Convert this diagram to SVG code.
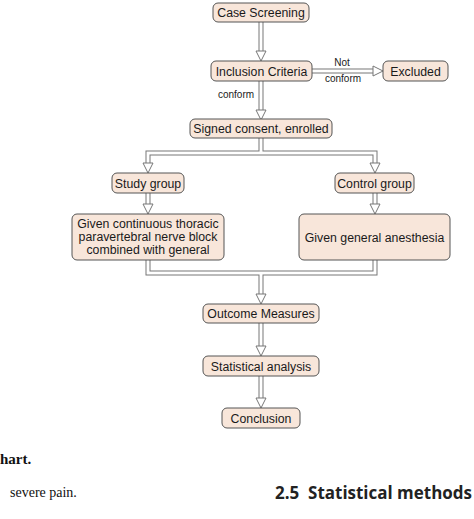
<svg xmlns="http://www.w3.org/2000/svg" width="474" height="519" viewBox="0 0 474 519">
<style>
.box{fill:#f8e6da;stroke:#555;stroke-width:1}
.t{font-family:"Liberation Sans",Arial,sans-serif;font-size:12.3px;fill:#1a1a1a;text-anchor:middle}
.s{font-family:"Liberation Sans",Arial,sans-serif;font-size:10px;fill:#1a1a1a;text-anchor:middle}
.outer{fill:none;stroke:#777;stroke-width:5;stroke-linejoin:miter;stroke-linecap:butt}
.inner{fill:none;stroke:#fff;stroke-width:3;stroke-linejoin:miter;stroke-linecap:butt}
.head{fill:#fff;stroke:#777;stroke-width:1}
</style>
<rect width="474" height="519" fill="#fff"/>
<g id="connectors">
  <g class="outer">
    <path d="M261 22V52"/>
    <path d="M261 81V111"/>
    <path d="M312 71H375"/>
    <path d="M261 137V153M148 164V153H375V164"/>
    <path d="M148 193V205"/>
    <path d="M375 193V205"/>
    <path d="M148 260V273H375V260M261 273V296"/>
    <path d="M261 323V348"/>
    <path d="M261 376V400"/>
  </g>
  <g class="inner">
    <path d="M261 22V53"/>
    <path d="M261 81V112"/>
    <path d="M312 71H376"/>
    <path d="M261 137V153M148 165V153H375V165"/>
    <path d="M148 193V206"/>
    <path d="M375 193V206"/>
    <path d="M148 260V273H375V260M261 273V297"/>
    <path d="M261 323V349"/>
    <path d="M261 376V401"/>
  </g>
  <g class="head">
    <polygon points="256,51 266,51 261,61"/>
    <polygon points="256,110 266,110 261,120"/>
    <polygon points="373,66 373,76 383,71"/>
    <polygon points="143,163 153,163 148,173"/>
    <polygon points="370,163 380,163 375,173"/>
    <polygon points="143,204 153,204 148,214"/>
    <polygon points="370,204 380,204 375,214"/>
    <polygon points="256,294 266,294 261,304"/>
    <polygon points="256,346 266,346 261,356"/>
    <polygon points="256,398 266,398 261,408"/>
  </g>
  <text class="s" x="342" y="66">Not</text>
  <text class="s" x="343" y="82">conform</text>
  <text class="s" x="236" y="98">conform</text>
</g>
<g id="case-screening"><rect class="box" x="213" y="3" width="96" height="19" rx="5"/><text class="t" x="261" y="17">Case Screening</text></g>
<g id="inclusion"><rect class="box" x="211" y="61" width="101" height="20" rx="5"/><text class="t" x="261.5" y="75.5">Inclusion Criteria</text></g>
<g id="excluded"><rect class="box" x="383" y="61" width="65" height="20" rx="5"/><text class="t" x="415.5" y="75.5">Excluded</text></g>
<g id="signed"><rect class="box" x="190" y="119" width="142" height="19" rx="5"/><text class="t" x="261" y="133">Signed consent, enrolled</text></g>
<g id="study"><rect class="box" x="112" y="173" width="72" height="20" rx="5"/><text class="t" x="148" y="187.5">Study group</text></g>
<g id="control"><rect class="box" x="335" y="173" width="79" height="20" rx="5"/><text class="t" x="374.5" y="187.5">Control group</text></g>
<g id="study-treatment"><rect class="box" x="72" y="214" width="152" height="46" rx="5"/>
  <text class="t" x="148" y="228">Given continuous thoracic</text>
  <text class="t" x="148" y="241">paravertebral nerve block</text>
  <text class="t" x="148" y="254">combined with general</text></g>
<g id="control-treatment"><rect class="box" x="299" y="214" width="151" height="46" rx="5"/><text class="t" x="374.5" y="241.5">Given general anesthesia</text></g>
<g id="outcome"><rect class="box" x="203" y="304" width="116" height="19" rx="5"/><text class="t" x="261" y="318">Outcome Measures</text></g>
<g id="statistical"><rect class="box" x="203" y="356" width="116" height="20" rx="5"/><text class="t" x="261" y="370.5">Statistical analysis</text></g>
<g id="conclusion"><rect class="box" x="222" y="408" width="78" height="20" rx="5"/><text class="t" x="261" y="422.5">Conclusion</text></g>
<text x="0" y="464" font-family="Liberation Serif,serif" font-weight="bold" font-size="15" fill="#111">hart.</text>
<text x="10" y="497" font-family="Liberation Serif,serif" font-size="14" fill="#111">severe pain.</text>
<text x="275" y="499" xml:space="preserve" font-family="Open Sans,sans-serif" font-weight="bold" font-size="17" fill="#222" textLength="197" lengthAdjust="spacingAndGlyphs">2.5  Statistical methods</text>
</svg>
